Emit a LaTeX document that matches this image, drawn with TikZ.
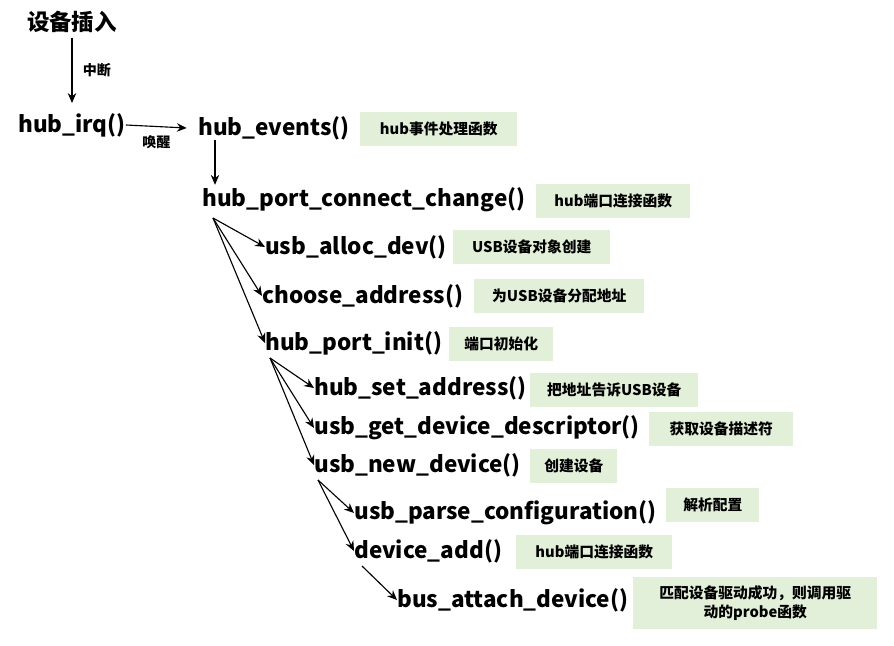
\documentclass[tikz,border=0pt]{standalone}
\usepackage{fontspec}
\setmainfont{Noto Sans CJK SC}
\usetikzlibrary{arrows.meta, positioning}

\begin{document}
\begin{tikzpicture}[
        x=0.025cm, y=-0.025cm,
        font=\bfseries,
        func/.style={anchor=west, inner sep=0pt, font=\fontsize{16}{18}\selectfont\bfseries},
        note/.style={anchor=west, fill=boxgreen, inner sep=0pt, minimum height=0.85cm, font=\fontsize{10.5}{13}\selectfont\bfseries, align=center},
        lbl/.style={font=\fontsize{10}{12}\selectfont\bfseries},
        call/.style={-{Stealth[length=7pt,width=6pt]}, thick}
    ]
    \definecolor{boxgreen}{HTML}{E2EFD9}
    \useasboundingbox (0,0) rectangle (894,645);

    % --- Nodes ---
    \node[font=\fontsize{16}{18}\selectfont\bfseries] (plug) at (72,22) {设备插入};
    \coordinate (irqtop) at (72,103);
    \node[func] (irq) at (18,125) {hub\_irq()};
    \node[func] (events) at (198,128) {hub\_events()};
    \node[func] (connect) at (202,200) {hub\_port\_connect\_change()};
    \node[func] (alloc) at (265,247) {usb\_alloc\_dev()};
    \node[func] (choose) at (262,296) {choose\_address()};
    \node[func] (init) at (265,343) {hub\_port\_init()};
    \node[func] (setaddr) at (314,388) {hub\_set\_address()};
    \node[func] (getdesc) at (314,428) {usb\_get\_device\_descriptor()};
    \node[func] (newdev) at (314,465) {usb\_new\_device()};
    \node[func] (parse) at (354,513) {usb\_parse\_configuration()};
    \node[func] (devadd) at (354,551) {device\_add()};
    \node[func] (attach) at (397,600) {bus\_attach\_device()};

    % --- Notes ---
    \node[note, minimum width=157*0.025cm] at (360,129) {hub事件处理函数};
    \node[note, minimum width=154*0.025cm] at (536,201) {hub端口连接函数};
    \node[note, minimum width=157*0.025cm] at (453,247) {USB设备对象创建};
    \node[note, minimum width=170*0.025cm] at (474,296) {为USB设备分配地址};
    \node[note, minimum width=104*0.025cm] at (449,344) {端口初始化};
    \node[note, minimum width=168*0.025cm] at (530,390) {把地址告诉USB设备};
    \node[note, minimum width=144*0.025cm] at (649,429) {获取设备描述符};
    \node[note, minimum width=87*0.025cm] at (530,466) {创建设备};
    \node[note, minimum width=93*0.025cm] at (666,505) {解析配置};
    \node[note, minimum width=156*0.025cm] at (516,552) {hub端口连接函数};
    \node[note, minimum width=244*0.025cm, minimum height=1.3cm] at (633,603) {匹配设备驱动成功，则调用驱\\动的probe函数};

    % --- Connections ---
    \draw[call] (plug.south) -- (irqtop) node[lbl, midway, right=4pt] {中断};
    \draw[call] (irq.east) -- ([xshift=-8pt]events.west) node[lbl, midway, below=3pt] {唤醒};
    \draw[call] ([xshift=17*0.025cm]events.south west) -- ([xshift=13*0.025cm,yshift=2pt]connect.north west);
    \coordinate (c0) at (213,218);
    \foreach \t in {alloc, choose, init}
        \draw[call] (c0) -- (\t.west);
    \coordinate (c1) at (270,358);
    \foreach \t in {setaddr, getdesc, newdev}
        \draw[call] (c1) -- (\t.west);
    \coordinate (c2) at (318,480);
    \foreach \t in {parse, devadd}
        \draw[call] (c2) -- (\t.west);
    \draw[call] (362,566) -- (attach.west);
\end{tikzpicture}
\end{document}
